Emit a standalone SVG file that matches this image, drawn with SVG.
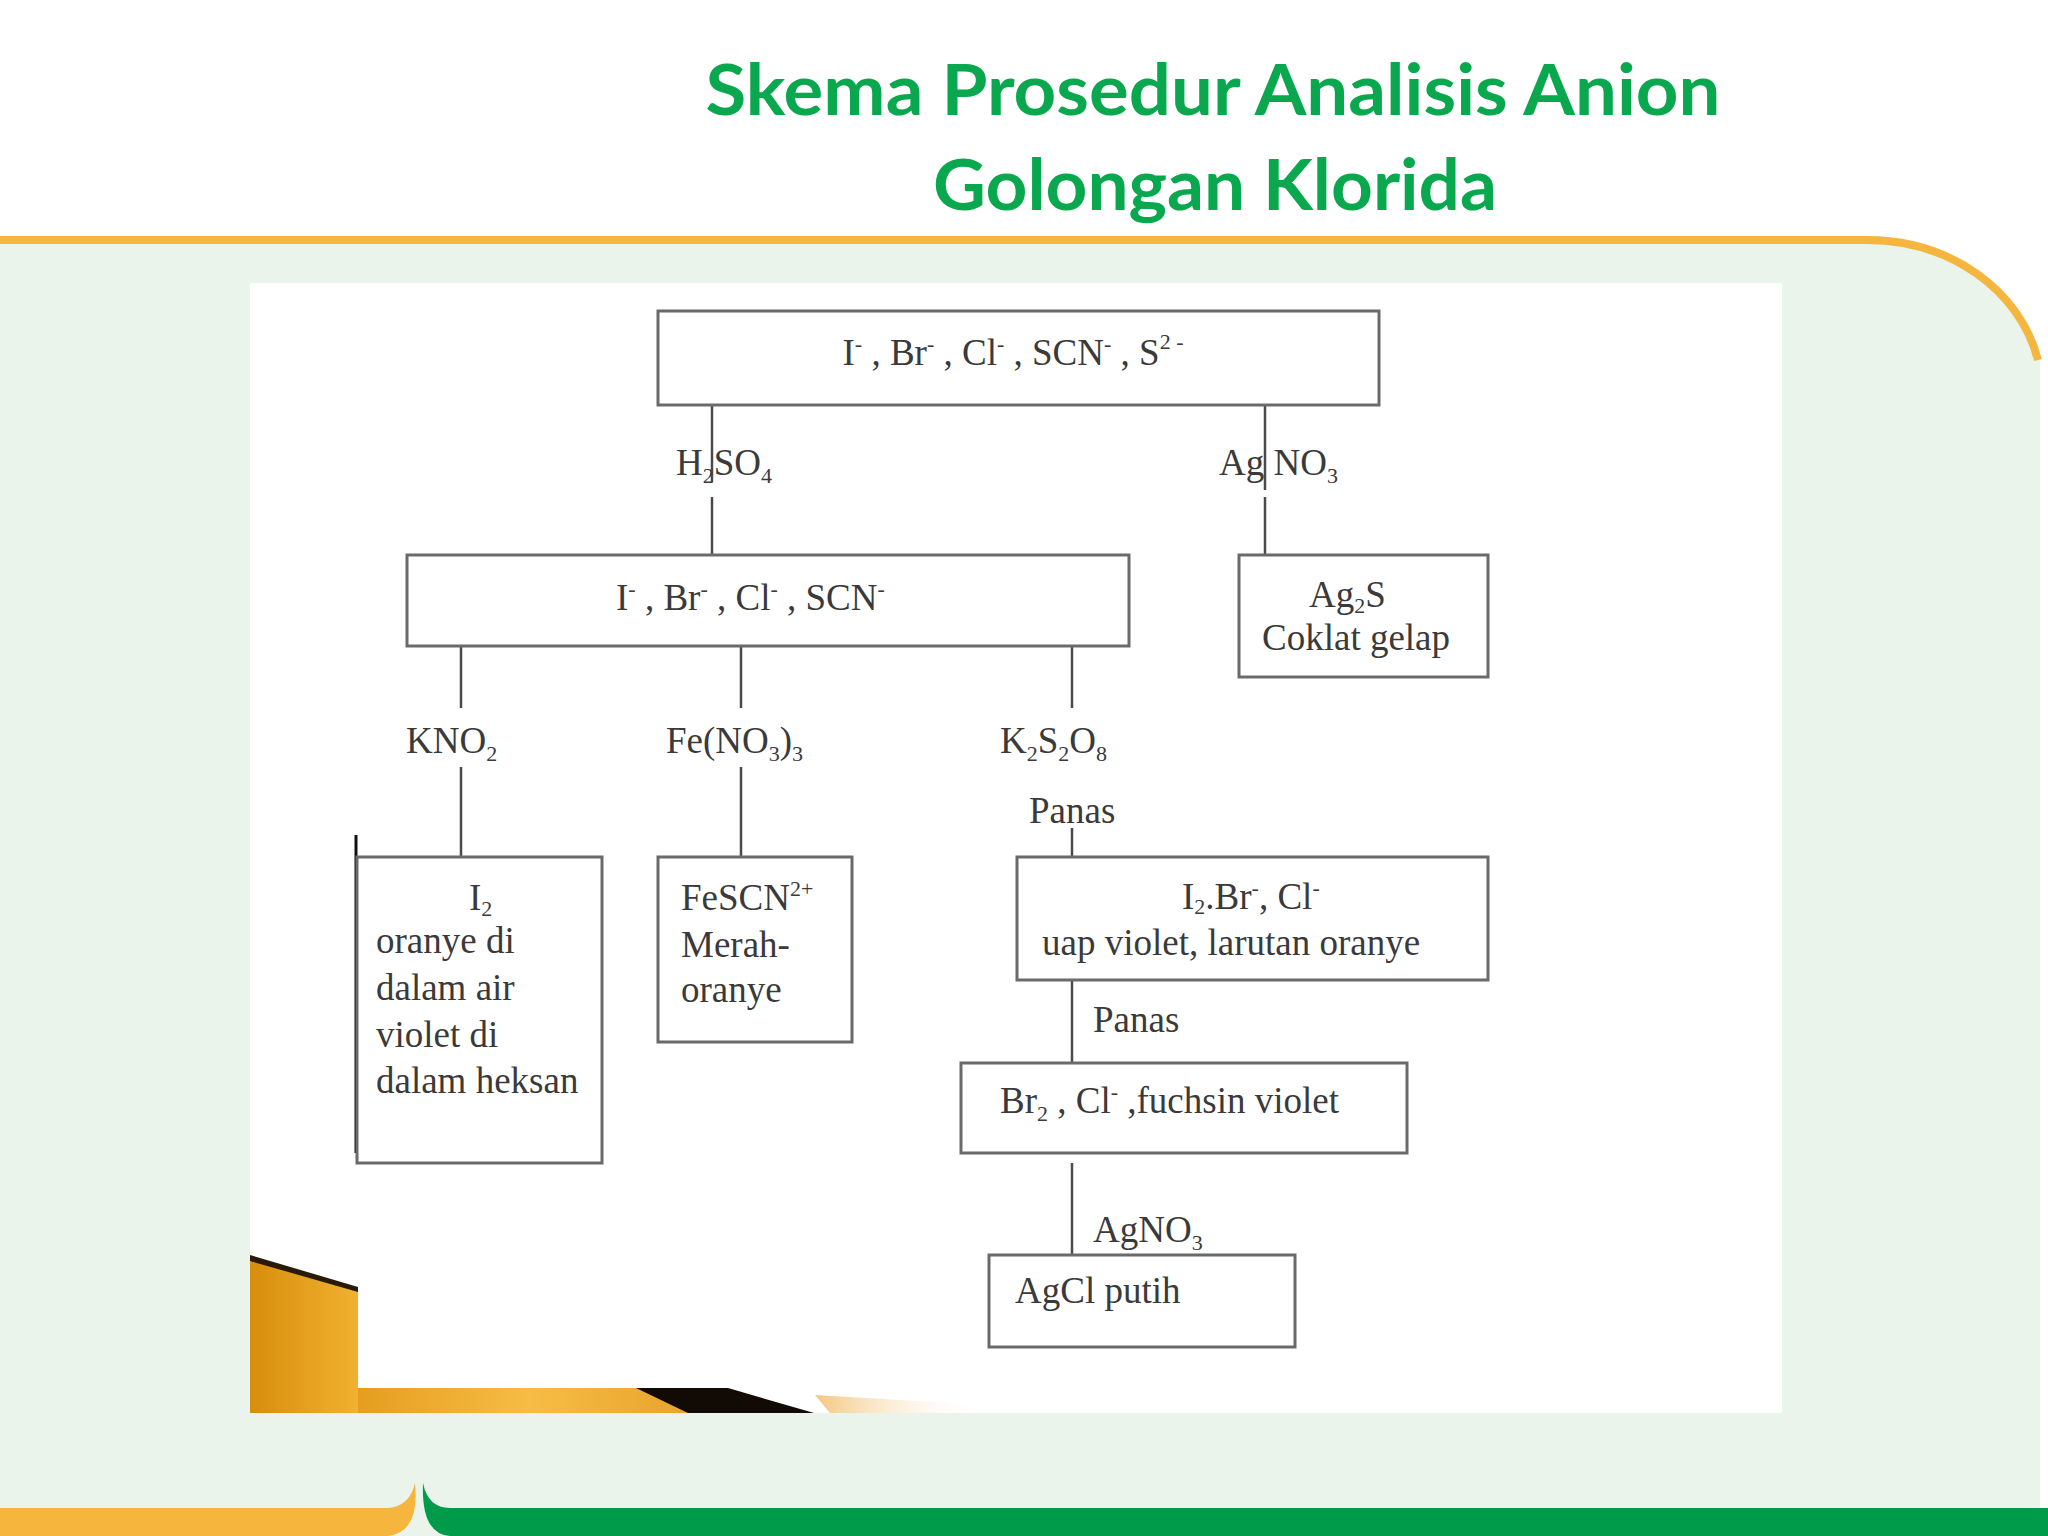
<svg xmlns="http://www.w3.org/2000/svg" width="2048" height="1536" viewBox="0 0 2048 1536">
  <defs>
    <style>
      .title { font-family: Lato, "Open Sans", "Liberation Sans", sans-serif; font-weight: bold; font-size: 70px; fill: #0AA84E; }
      .t { font-family: "Liberation Serif", "DejaVu Serif", serif; font-size: 37px; fill: #3a3a3a; }
      .box { fill: #ffffff; stroke: #6a6a6a; stroke-width: 3; }
      .conn { stroke: #4a4a4a; stroke-width: 2.5; fill: none; }
    </style>
    <linearGradient id="og" x1="0" y1="0" x2="1" y2="0">
      <stop offset="0" stop-color="#D88D0C"/>
      <stop offset="1" stop-color="#F0B230"/>
    </linearGradient>
    <linearGradient id="ostrip" x1="0" y1="0" x2="1" y2="0">
      <stop offset="0" stop-color="#E59E1E"/>
      <stop offset="0.5" stop-color="#F7BC45"/>
      <stop offset="1" stop-color="#E7A22A"/>
    </linearGradient>
    <linearGradient id="fade" x1="0" y1="0" x2="1" y2="0">
      <stop offset="0" stop-color="#F2C070" stop-opacity="0.9"/>
      <stop offset="1" stop-color="#FFFFFF" stop-opacity="0"/>
    </linearGradient>
  </defs>

  <!-- background -->
  <rect x="0" y="0" width="2048" height="1536" fill="#FFFFFF"/>
  <path d="M0,241 H1867 C1950,241 2022,290 2040,357 V1536 H0 Z" fill="#EBF4EA"/>
  <path d="M0,240 H1867 C1950,240 2020,290 2038,360" fill="none" stroke="#F4B63F" stroke-width="8"/>

  <!-- title -->
  <text class="title" x="1213" y="115" text-anchor="middle" textLength="1015" lengthAdjust="spacingAndGlyphs">Skema Prosedur Analisis Anion</text>
  <text class="title" x="1215" y="210" text-anchor="middle" textLength="564" lengthAdjust="spacingAndGlyphs">Golongan Klorida</text>

  <!-- picture panel -->
  <rect x="250" y="283" width="1532" height="1130" fill="#FFFFFF"/>
  <polygon points="250,1257 358,1290 358,1413 250,1413" fill="url(#og)"/>
  <polygon points="250,1255 358,1287 358,1292 250,1261" fill="#2a1a08"/>
  <polygon points="358,1388 688,1388 700,1413 358,1413" fill="url(#ostrip)"/>
  <polygon points="815,1395 986,1405 986,1413 830,1413" fill="url(#fade)"/>
  <polygon points="636,1388 728,1388 814,1413 688,1413" fill="#120a04"/>
  <line x1="356" y1="835" x2="356" y2="1153" stroke="#111111" stroke-width="3"/>

  <!-- bottom bars -->
  <path d="M0,1508 H388 Q410,1506 415,1483 Q420,1532 388,1536 H0 Z" fill="#F6B53C"/>
  <path d="M423,1483 Q428,1508 450,1508 H2048 V1536 H450 Q421,1534 423,1483 Z" fill="#009A4B"/>

  <!-- connectors -->
  <g id="connectors">
    <path class="conn" d="M712,405 V482 M712,497 V555"/>
    <path class="conn" d="M1265,405 V490 M1265,497 V555"/>
    <path class="conn" d="M461,646 V708 M461,767 V857"/>
    <path class="conn" d="M741,646 V708 M741,767 V857"/>
    <path class="conn" d="M1072,646 V708 M1072,828 V857"/>
    <path class="conn" d="M1072,980 V1063"/>
    <path class="conn" d="M1072,1163 V1255"/>
  </g>

  <!-- connector labels -->
  <g id="labels">
    <text class="t" x="676" y="475">H<tspan font-size="22" dy="8">2</tspan><tspan dy="-8">SO</tspan><tspan font-size="22" dy="8">4</tspan></text>
    <text class="t" x="1219" y="475">Ag NO<tspan font-size="22" dy="8">3</tspan></text>
    <text class="t" x="406" y="753">KNO<tspan font-size="22" dy="8">2</tspan></text>
    <text class="t" x="666" y="753">Fe(NO<tspan font-size="22" dy="8">3</tspan><tspan dy="-8">)</tspan><tspan font-size="22" dy="8">3</tspan></text>
    <text class="t" x="1000" y="753">K<tspan font-size="22" dy="8">2</tspan><tspan dy="-8">S</tspan><tspan font-size="22" dy="8">2</tspan><tspan dy="-8">O</tspan><tspan font-size="22" dy="8">8</tspan></text>
    <text class="t" x="1029" y="823">Panas</text>
    <text class="t" x="1093" y="1032">Panas</text>
    <text class="t" x="1093" y="1242">AgNO<tspan font-size="22" dy="8">3</tspan></text>
  </g>

  <!-- nodes -->
  <g id="node-all">
    <rect class="box" x="658" y="311" width="721" height="94"/>
    <text class="t" x="1013" y="365" text-anchor="middle">I<tspan font-size="22" dy="-14">-</tspan><tspan dy="14"> , Br</tspan><tspan font-size="22" dy="-14">-</tspan><tspan dy="14"> , Cl</tspan><tspan font-size="22" dy="-14">-</tspan><tspan dy="14"> , SCN</tspan><tspan font-size="22" dy="-14">-</tspan><tspan dy="14"> , S</tspan><tspan font-size="22" dy="-16">2 -</tspan></text>
  </g>
  <g id="node-halides">
    <rect class="box" x="407" y="555" width="722" height="91"/>
    <text class="t" x="616" y="610">I<tspan font-size="22" dy="-14">-</tspan><tspan dy="14"> , Br</tspan><tspan font-size="22" dy="-14">-</tspan><tspan dy="14"> , Cl</tspan><tspan font-size="22" dy="-14">-</tspan><tspan dy="14"> , SCN</tspan><tspan font-size="22" dy="-14">-</tspan></text>
  </g>
  <g id="node-ag2s">
    <rect class="box" x="1239" y="555" width="249" height="122"/>
    <text class="t" x="1309" y="607">Ag<tspan font-size="22" dy="6">2</tspan><tspan dy="-6">S</tspan></text>
    <text class="t" x="1262" y="650">Coklat gelap</text>
  </g>
  <g id="node-i2">
    <rect class="box" x="357" y="857" width="245" height="306"/>
    <text class="t" x="469" y="910">I<tspan font-size="22" dy="6">2</tspan></text>
    <text class="t" x="376" y="953">oranye di</text>
    <text class="t" x="376" y="1000">dalam air</text>
    <text class="t" x="376" y="1047">violet di</text>
    <text class="t" x="376" y="1093">dalam heksan</text>
  </g>
  <g id="node-fescn">
    <rect class="box" x="658" y="857" width="194" height="185"/>
    <text class="t" x="681" y="910">FeSCN<tspan font-size="22" dy="-14">2+</tspan></text>
    <text class="t" x="681" y="957">Merah-</text>
    <text class="t" x="681" y="1002">oranye</text>
  </g>
  <g id="node-i2brcl">
    <rect class="box" x="1017" y="857" width="471" height="123"/>
    <text class="t" x="1182" y="909">I<tspan font-size="22" dy="5">2</tspan><tspan dy="-5">.Br</tspan><tspan font-size="22" dy="-14">-</tspan><tspan dy="14">, Cl</tspan><tspan font-size="22" dy="-14">-</tspan></text>
    <text class="t" x="1042" y="955">uap violet, larutan oranye</text>
  </g>
  <g id="node-br2">
    <rect class="box" x="961" y="1063" width="446" height="90"/>
    <text class="t" x="1000" y="1113">Br<tspan font-size="22" dy="8">2</tspan><tspan dy="-8">  , Cl</tspan><tspan font-size="22" dy="-14">-</tspan><tspan dy="14"> ,fuchsin violet</tspan></text>
  </g>
  <g id="node-agcl">
    <rect class="box" x="989" y="1255" width="306" height="92"/>
    <text class="t" x="1015" y="1303">AgCl putih</text>
  </g>
</svg>
